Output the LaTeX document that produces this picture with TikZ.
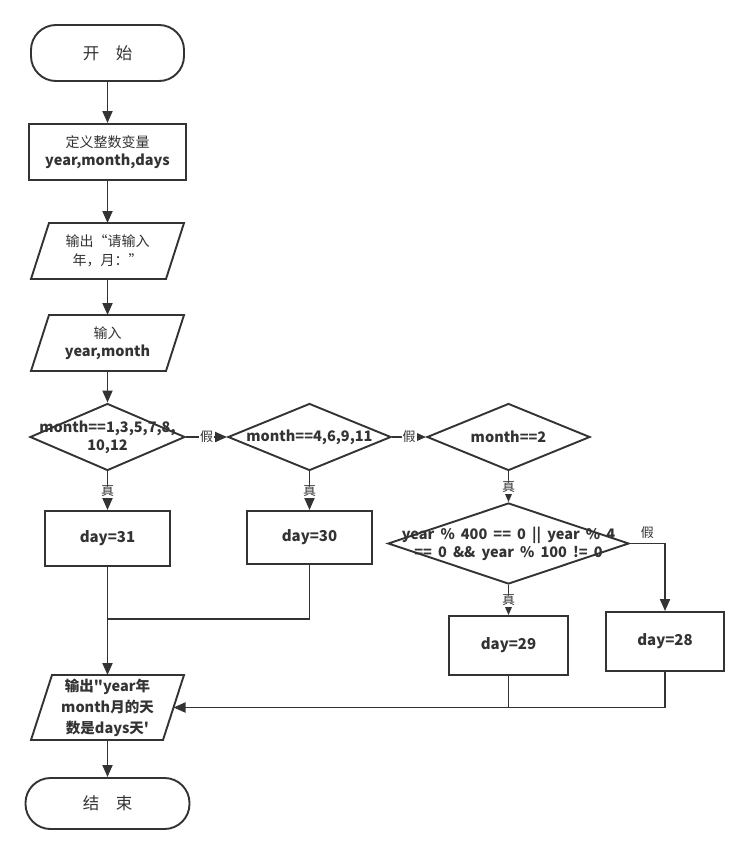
\documentclass[tikz,border=0pt]{standalone}
\usepackage{fontspec}
\setmainfont{Noto Sans CJK SC}
\usetikzlibrary{arrows.meta,shapes.geometric,calc}
\definecolor{ln}{HTML}{333333}
\begin{document}
\begin{tikzpicture}[x=1pt,y=-1pt,
  base/.style={draw=ln, line width=1.9pt, inner sep=0pt, align=center, text=ln,
    font=\fontsize{14}{18.5}\selectfont},
  term/.style={base, rectangle, rounded corners=25pt, font=\fontsize{16.5}{18}\selectfont},
  proc/.style={base, rectangle},
  boldbox/.style={proc, font=\fontsize{15}{18.5}\selectfont\bfseries},
  para/.style={base, draw=none, outer sep=0pt},
  dia/.style={base, diamond},
  txt/.style={inner sep=0pt, align=center, text=ln, font=\fontsize{14.5}{18}\selectfont\bfseries},
  con/.style={draw=ln, line width=1.9pt},
  arr/.style={con, -{Triangle[length=12pt,width=10pt]}},
  lab/.style={fill=white, inner sep=1pt, text=ln, font=\fontsize{13}{13}\selectfont},
  edgepara/.style={con, line join=miter}
]
\useasboundingbox (0,0) rectangle (749,854);

% left column
\node[term, minimum width=153pt, minimum height=56pt] (start) at (107.5,53) {开\hspace{1em}始};
\node[proc, minimum width=157pt, minimum height=56pt] (def) at (107.5,152) {定义整数变量\\\textbf{\fontsize{14.5}{18.5}\selectfont year,month,days}};
\node[para, minimum width=135pt, minimum height=56pt] (p1) at (107.5,251) {输出“请输入\\年，月：”};
\node[para, minimum width=135pt, minimum height=56pt] (p2) at (107.5,343) {输入\\\textbf{\fontsize{14.5}{18.5}\selectfont year,month}};
\draw[edgepara] ([xshift=9pt]p1.north west) -- ([xshift=9pt]p1.north east) -- ([xshift=-9pt]p1.south east) -- ([xshift=-9pt]p1.south west) -- cycle;
\draw[edgepara] ([xshift=9pt]p2.north west) -- ([xshift=9pt]p2.north east) -- ([xshift=-9pt]p2.south east) -- ([xshift=-9pt]p2.south west) -- cycle;

% decisions
\node[dia, minimum width=155pt, minimum height=67pt] (d1) at (107.5,437) {};
\node[txt] (d1t) at (d1.center) {month==1,3,5,7,8,\\10,12};
\node[dia, minimum width=163pt, minimum height=67pt] (d2) at (309.5,437) {};
\node[txt] (d2t) at (d2.center) {month==4,6,9,11};
\node[dia, minimum width=163pt, minimum height=67pt] (d3) at (508.5,437) {};
\node[txt] (d3t) at (d3.center) {month==2};
\node[dia, minimum width=241pt, minimum height=81pt] (d4) at (508.5,543.5) {};
\node[txt] (d4t) at (d4.center) {\spaceskip=0.42em year \% 400 == 0 || year \% 4\\\spaceskip=0.42em == 0 \&\& year \% 100 != 0};

% process boxes
\node[boldbox, minimum width=125pt, minimum height=55pt] (b31) at (107.5,538.5) {day=31};
\node[boldbox, minimum width=125pt, minimum height=53pt] (b30) at (309.5,537.5) {day=30};
\node[boldbox, minimum width=119pt, minimum height=59pt] (b29) at (508.5,645.5) {day=29};
\node[boldbox, minimum width=118pt, minimum height=59pt] (b28) at (665,641.5) {day=28};

% output and end
\node[para, minimum width=132pt, minimum height=65pt, font=\fontsize{14.5}{21}\selectfont\bfseries] (out) at (107.5,707.5) {输出\textquotedbl year年\\month月的天\\数是days天\textquotesingle};
\draw[edgepara] ([xshift=10.5pt]out.north west) -- ([xshift=10.5pt]out.north east) -- ([xshift=-10.5pt]out.south east) -- ([xshift=-10.5pt]out.south west) -- cycle;
\node[term, minimum width=164pt, minimum height=51pt] (end) at (107.5,803.5) {结\hspace{1em}束};

% connectors
\draw[arr] (start) -- (def);
\draw[arr] (def) -- (p1);
\draw[arr] (p1) -- (p2);
\draw[arr] (p2) -- (d1);
\draw[arr] (d1.east) -- node[lab] {假} (d2.west);
\draw[arr] (d2.east) -- node[lab] {假} (d3.west);
\draw[arr] (d1.south) -- node[lab] {真} (b31.north);
\draw[arr] (d2.south) -- node[lab] {真} (b30.north);
\draw[arr] (d3.south) -- node[lab] {真} (d4.north);
\draw[arr] (d4.south) -- node[lab] {真} (b29.north);
\draw[arr] (d4.east) -| node[pos=0.25, above=3pt, inner sep=1pt, text=ln, font=\fontsize{13}{13}\selectfont] {假} (b28.north);

\coordinate (j1) at (107.5,619);
\coordinate (j2) at (b29.south |- out.east);
\draw[arr] (b31.south) -- (out.north);
\draw[con] (b30.south) |- (j1);
\draw[con] (b29.south) -- (j2);
\draw[arr] (b28.south) |- (out.east);
\draw[arr] (out) -- (end);
\end{tikzpicture}
\end{document}
